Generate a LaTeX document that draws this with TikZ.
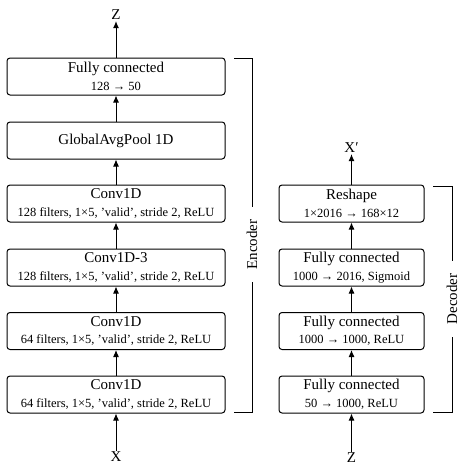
\documentclass[tikz,border=0pt]{standalone}
\usepackage{fontspec}
\setmainfont{Liberation Serif}
\usetikzlibrary{arrows.meta}
\begin{document}
\begin{tikzpicture}[x=1pt,y=-1pt,
  layer/.style={draw, rounded corners=3pt, line width=1pt, align=center, inner sep=0pt,
    minimum height=37pt, font=\fontsize{12.5}{17.5}\selectfont},
  enclayer/.style={layer, minimum width=218pt},
  declayer/.style={layer, minimum width=145pt},
  flow/.style={line width=1pt, -{Latex[length=7pt,width=6pt]}},
  io/.style={font=\fontsize{15}{18}\selectfont, inner sep=1pt},
  brk/.style={line width=1pt},
  side/.style={font=\fontsize{15}{18}\selectfont, rotate=90, inner xsep=12pt, inner ysep=0pt}]
\useasboundingbox (0,0) rectangle (474,474);
\newcommand{\ttl}[1]{{\fontsize{15}{17.5}\selectfont #1}}
% encoder
\node[enclayer] (e1) at (116,394.5) {\ttl{Conv1D}\\64 filters, 1×5, 'valid', stride 2, ReLU};
\node[enclayer] (e2) at (116,331) {\ttl{Conv1D}\\64 filters, 1×5, 'valid', stride 2, ReLU};
\node[enclayer] (e3) at (116,267.5) {\ttl{Conv1D-3}\\128 filters, 1×5, 'valid', stride 2, ReLU};
\node[enclayer] (e4) at (116,203.5) {\ttl{Conv1D}\\128 filters, 1×5, 'valid', stride 2, ReLU};
\node[enclayer] (e5) at (116,140.5) {\ttl{GlobalAvgPool 1D}};
\node[enclayer] (e6) at (116,76.5) {\ttl{Fully connected}\\128 → 50};
\node[io] (x) at (116,457) {X};
\node[io] (zo) at (116,15) {Z};
\draw[flow] (x) -- (e1);
\draw[flow] (e1) -- (e2);
\draw[flow] (e2) -- (e3);
\draw[flow] (e3) -- (e4);
\draw[flow] (e4) -- (e5);
\draw[flow] (e5) -- (e6);
\draw[flow] (e6) -- (zo);
% decoder
\node[declayer] (d1) at (351.5,394.5) {\ttl{Fully connected}\\50 → 1000, ReLU};
\node[declayer] (d2) at (351.5,331) {\ttl{Fully connected}\\1000 → 1000, ReLU};
\node[declayer] (d3) at (351.5,267.5) {\ttl{Fully connected}\\1000 → 2016, Sigmoid};
\node[declayer] (d4) at (351.5,203.5) {\ttl{Reshape}\\1×2016 → 168×12};
\node[io] (zi) at (351.5,458) {Z};
\node[io] (xo) at (351.5,148) {X′};
\draw[flow] (zi) -- (d1);
\draw[flow] (d1) -- (d2);
\draw[flow] (d2) -- (d3);
\draw[flow] (d3) -- (d4);
\draw[flow] (d4) -- (xo);
% brackets
\node[side] (enc) at (252,244.5) {Encoder};
\coordinate (et0) at (234,58);
\coordinate (et1) at (252,58);
\coordinate (eb0) at (234,412);
\coordinate (eb1) at (252,412);
\draw[brk] (et0) -- (et1) -- (enc.east);
\draw[brk] (eb0) -- (eb1) -- (enc.west);
\node[side] (dec) at (452,299) {Decoder};
\coordinate (dt0) at (433,186);
\coordinate (dt1) at (452,186);
\coordinate (db0) at (433,412);
\coordinate (db1) at (452,412);
\draw[brk] (dt0) -- (dt1) -- (dec.east);
\draw[brk] (db0) -- (db1) -- (dec.west);
\end{tikzpicture}
\end{document}
